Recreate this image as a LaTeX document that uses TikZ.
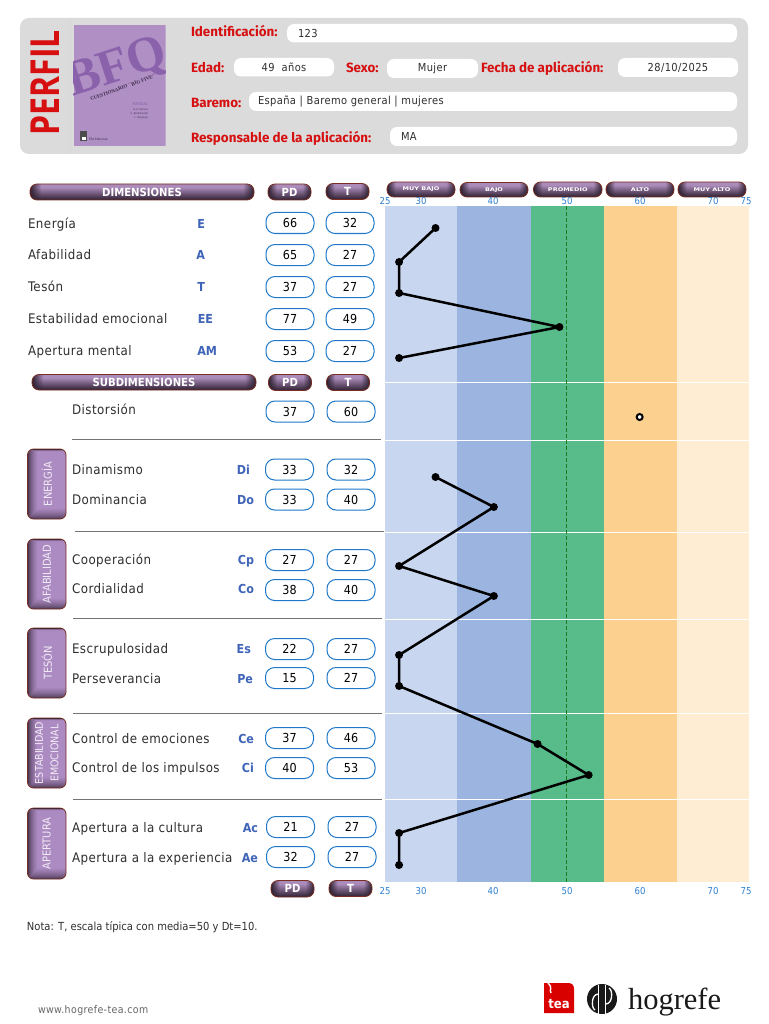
\documentclass[tikz,border=0pt]{standalone}
\usepackage{fontspec}
\setmainfont{DejaVu Sans Condensed}
\newfontfamily\rowfont[LetterSpace=3.6]{DejaVu Sans Condensed}
\newfontfamily\perfilfont{Open Sans}
\newfontfamily\redfont{Fira Sans}
\newfontfamily\serifff{Liberation Serif}
\newfontfamily\widefont{DejaVu Sans}
\definecolor{pilldark}{HTML}{2E2030}
\definecolor{pillborder}{HTML}{7A2E22}
\definecolor{tagpurple}{HTML}{AC8AC2}
\definecolor{valblue}{HTML}{1F78C8}
\definecolor{abblue}{HTML}{3F64B8}
\definecolor{scaleblue}{HTML}{2D7FD0}
\definecolor{hdrred}{HTML}{D60F10}
\definecolor{txtgray}{HTML}{2F2F2F}
\definecolor{bandA}{HTML}{C9D6F0}
\definecolor{bandB}{HTML}{9BB5E0}
\definecolor{bandC}{HTML}{57BB8A}
\definecolor{bandD}{HTML}{FCD08F}
\definecolor{bandE}{HTML}{FEECD3}
\definecolor{coverbg}{HTML}{B08FC4}
\definecolor{coverfg}{HTML}{8A62AB}
\definecolor{midline}{HTML}{1E7A1E}
% two-dimensional pill shadings: dark bottom and dark ends
\newcommand{\pillfunc}[1]{%
  25 sub 50 div dup 0 lt {pop 0} if dup 1 gt {pop 1} if 1.25 mul dup 1 gt {pop 1} if
  exch 25 sub 50 div dup 1 exch sub 2 copy gt {exch} if pop
  #1 div dup 0 lt {pop 0} if dup 1 gt {pop 1} if
  mul
  dup 0.49 mul 0.18 add exch
  dup 0.42 mul 0.125 add exch
  0.54 mul 0.19 add}
\pgfdeclarefunctionalshading{pillwide}{\pgfpointorigin}{\pgfpoint{100bp}{100bp}}{}{\pillfunc{0.05}}
\pgfdeclarefunctionalshading{pillshort}{\pgfpointorigin}{\pgfpoint{100bp}{100bp}}{}{\pillfunc{0.2}}
\pgfdeclarefunctionalshading{pillcat}{\pgfpointorigin}{\pgfpoint{100bp}{100bp}}{}{\pillfunc{0.13}}
\pgfdeclarefunctionalshading{tagshade}{\pgfpointorigin}{\pgfpoint{100bp}{100bp}}{}{%
  25 sub 50 div dup 1 exch sub 0.03 div exch 0.16 div
  2 copy gt {exch} if pop
  exch 25 sub 50 div 0.25 div
  2 copy gt {exch} if pop
  dup 0 lt {pop 0} if dup 1 gt {pop 1} if sqrt
  dup 0.495 mul 0.18 add exch
  dup 0.415 mul 0.125 add exch
  0.57 mul 0.19 add}
\tikzset{
  every node/.style={inner sep=0pt,outer sep=0pt},
  pillbox/.style={draw=pillborder,line width=.8pt,rounded corners=7pt,text=white},
  headpill/.style={pillbox,shading=pillwide,font=\bfseries\fontsize{11.2}{12}\selectfont},
  shortpill/.style={pillbox,shading=pillshort,font=\bfseries\fontsize{11.2}{12}\selectfont},
  catpill/.style={pillbox,shading=pillcat,font=\widefont\bfseries\fontsize{5}{6}\selectfont},
  tagbox/.style={draw=pillborder,line width=.8pt,rounded corners=6pt,shading=tagshade,text=white!85!tagpurple,align=center,
    font=\fontsize{11}{12}\selectfont},
  field/.style={fill=white,rounded corners=7pt,text=txtgray,font=\rowfont\fontsize{11}{13}\selectfont},
  redlabel/.style={anchor=mid west,yshift=-2pt,text=hdrred,font=\redfont\bfseries\fontsize{13.4}{15}\selectfont},
  rowlabel/.style={anchor=mid west,yshift=-2.5pt,text=txtgray,font=\rowfont\fontsize{13.2}{15}\selectfont},
  abbr/.style={anchor=mid east,yshift=-2.5pt,text=abblue,font=\bfseries\fontsize{12.4}{15}\selectfont},
  valpill/.style={draw=valblue,line width=1pt,fill=white,rounded corners=9pt,minimum width=48pt,minimum height=21pt,text=black,font=\fontsize{12.4}{14}\selectfont},
  scalelab/.style={text=scaleblue,font=\fontsize{9.5}{11}\selectfont},
  sep/.style={draw=black!55,line width=1pt},
  gridline/.style={draw=white,line width=.8pt},
  plotline/.style={draw=black,line width=2.5pt,line join=round},
  dotpt/.style={circle,fill=black,minimum size=8pt},
  ringpt/.style={circle,draw=black,fill=white,line width=2pt,minimum size=6pt},
}
\newcommand{\boxnode}[7]{\node[#1,minimum width={#4-#3},minimum height={#6-#5}] (#2) at ({(#3+#4)/2},{(#5+#6)/2}) {#7};}
\newcommand{\tabrow}[9]{%
  \node[rowlabel] (lab-#1) at (#2,#3) {#4};
  \node[abbr] (ab-#1) at (#5,#3) {#6};
  \node[valpill] (pd-#1) at (#7,#8) {#9};
}
\newcommand{\tval}[4]{\node[valpill] (t-#1) at (#2,#3) {#4};}
\newcommand{\tpx}[1]{384.5+(#1-25)*7.29}
\newcommand{\catwide}[1]{\scalebox{1.3}[1]{#1}}
\begin{document}
\begin{tikzpicture}[x=1pt,y=-1pt]
\useasboundingbox (0,0) rectangle (768,1024);
\fill[white] (0,0) rectangle (768,1024);
% header
\boxnode{fill=black!14,rounded corners=9pt}{panel}{20}{748}{18}{154}{}
\draw[white!85!black,line width=2pt] (70,18) -- (70,154);
\node[rotate=90,text=hdrred,font=\perfilfont\bfseries\fontsize{40}{44}\selectfont] (perfil) at (45,83) {\scalebox{0.8}[1]{PERFIL}};
% cover
\begin{scope}
\clip (73.5,25) rectangle (165.5,146.5);
\fill[coverbg] (73.5,25) rectangle (165.5,146.5);
\node[rotate=18,anchor=base west,text=coverfg,font=\serifff\bfseries\fontsize{50}{50}\selectfont] (bfq) at (72,96.5) {BFQ};
\end{scope}
\node[rotate=20,anchor=base west,text=black!60!coverfg,font=\serifff\bfseries\fontsize{5}{6}\selectfont] (cuest) at (91,101) {CUESTIONARIO ``BIG FIVE''};
\node[anchor=east,text=coverfg,font=\fontsize{4}{5}\selectfont] (manual) at (148,104.5) {MANUAL};
\node[anchor=north east,align=right,text=black!45!coverfg,font=\fontsize{2.6}{3.6}\selectfont] (autores) at (148,109) {G.V. Caprara\\C. Barbaranelli\\L. Borgogni};
\fill[black!70] (80,131) rectangle (87,141);
\fill[white] (81.5,137) rectangle (85.5,140);
\node[anchor=west,text=black!60!coverfg,font=\fontsize{3}{4}\selectfont] (ted) at (89,139) {TEA Ediciones};
% header fields
\node[redlabel] (l1) at (191,32) {Identificación:};
\boxnode{field,text width=428pt}{f1}{287}{737}{24}{42.5}{123}
\node[redlabel] (l2) at (191,67.5) {Edad:};
\boxnode{field,align=center}{f2}{234}{334}{58}{76.5}{49\ \ años}
\node[redlabel] (l3) at (346,67.5) {Sexo:};
\boxnode{field,align=center}{f3}{387}{478}{59}{78}{Mujer}
\node[redlabel] (l4) at (481,67.5) {Fecha de aplicación:};
\boxnode{field,align=center}{f4}{618}{738}{58}{77}{28/10/2025}
\node[redlabel] (l5) at (191,103) {Baremo:};
\boxnode{field,text width=470pt}{f5}{249}{737}{92}{111}{España | Baremo general | mujeres}
\node[redlabel] (l6) at (191,138) {Responsable de la aplicación:};
\boxnode{field,text width=325pt}{f6}{390}{737}{127}{146}{MA}
% bands
\fill[bandA] (384.5,206) rectangle (457,882);
\fill[bandB] (457,206) rectangle (531,882);
\fill[bandC] (531,206) rectangle (603.5,882);
\fill[bandD] (603.5,206) rectangle (677,882);
\fill[bandE] (677,206) rectangle (749,882);
\foreach \yy in {382,440,532,619,713,799} \draw[gridline] (384.5,\yy) -- (749,\yy);
\coordinate (mtop) at (566.7,206);
\coordinate (mbot) at (566.7,882);
\draw[midline,line width=.8pt,dash pattern=on 4pt off 2pt] (mtop) -- (mbot);
% category pills
\boxnode{catpill}{c1}{387}{455}{182}{197}{\catwide{MUY BAJO}}
\boxnode{catpill}{c2}{460}{528}{182.5}{197}{\catwide{BAJO}}
\boxnode{catpill}{c3}{533.5}{602}{182}{197}{\catwide{PROMEDIO}}
\boxnode{catpill}{c4}{606}{674}{182}{197}{\catwide{ALTO}}
\boxnode{catpill}{c5}{678}{746}{182}{197}{\catwide{MUY ALTO}}
% scale labels
\foreach \sx/\st/\sid in {385/25/a,421/30/b,493/40/c,567/50/d,640/60/e,713/70/f,746/75/g}{
  \node[scalelab] (st-\sid) at (\sx,201.5) {\st};
  \node[scalelab] (sb-\sid) at (\sx,891.5) {\st};
}
% head pills
\boxnode{headpill}{hdim}{30}{254}{184}{200}{DIMENSIONES}
\boxnode{shortpill}{hpd1}{268}{311}{184}{200}{PD}
\boxnode{shortpill}{ht1}{326}{369}{183.5}{199.5}{T}
\boxnode{headpill}{hsub}{32}{256}{374.5}{390}{SUBDIMENSIONES}
\boxnode{shortpill}{hpd2}{268.5}{311.5}{374.5}{390.5}{PD}
\boxnode{shortpill}{ht2}{326.5}{369.5}{374.5}{390.5}{T}
\boxnode{shortpill}{hpd3}{271}{314}{880.5}{897}{PD}
\boxnode{shortpill}{ht3}{329}{372}{880.5}{896.5}{T}
% rows
\tabrow{E}{28}{223}{Energía}{205}{E}{290}{223}{66}\tval{E}{350}{223}{32}
\tabrow{A}{28}{254}{Afabilidad}{205}{A}{290}{255}{65}\tval{A}{350}{255}{27}
\tabrow{T}{28}{286}{Tesón}{205}{T}{290}{287}{37}\tval{T}{350}{287}{27}
\tabrow{EE}{28}{318}{Estabilidad emocional}{213}{EE}{290}{319}{77}\tval{EE}{350}{319}{49}
\tabrow{AM}{28}{350}{Apertura mental}{217}{AM}{290}{351}{53}\tval{AM}{350}{351}{27}
\node[rowlabel] (lab-Dist) at (72,409) {Distorsión};
\node[valpill] (pd-Dist) at (290,411.5) {37};
\tval{Dist}{351}{411.5}{60}
\tabrow{Di}{72}{469}{Dinamismo}{250}{Di}{289.5}{469.5}{33}\tval{Di}{351}{469.5}{32}
\tabrow{Do}{72}{499}{Dominancia}{254}{Do}{289.5}{499.5}{33}\tval{Do}{351}{499.5}{40}
\tabrow{Cp}{72}{559}{Cooperación}{254}{Cp}{289.5}{560}{27}\tval{Cp}{351}{560}{27}
\tabrow{Co}{72}{588}{Cordialidad}{254}{Co}{289.5}{590}{38}\tval{Co}{351}{590}{40}
\tabrow{Es}{72}{648}{Escrupulosidad}{251}{Es}{289.5}{649}{22}\tval{Es}{351}{649}{27}
\tabrow{Pe}{72}{678}{Perseverancia}{253}{Pe}{289.5}{678}{15}\tval{Pe}{351}{678}{27}
\tabrow{Ce}{72}{738}{Control de emociones}{254}{Ce}{289.5}{738}{37}\tval{Ce}{351}{738}{46}
\tabrow{Ci}{72}{767}{Control de los impulsos}{254}{Ci}{289.5}{768}{40}\tval{Ci}{351}{768}{53}
\tabrow{Ac}{72}{827}{Apertura a la cultura}{258}{Ac}{290.5}{827}{21}\tval{Ac}{352}{827}{27}
\tabrow{Ae}{72}{857}{Apertura a la experiencia}{258}{Ae}{290.5}{857}{32}\tval{Ae}{352}{857}{27}
% separators
\coordinate (s1a) at (72,439.5); \coordinate (s1b) at (381,439.5); \draw[sep] (s1a) -- (s1b);
\coordinate (s2a) at (75,531); \coordinate (s2b) at (384,531); \draw[sep] (s2a) -- (s2b);
\coordinate (s3a) at (73,618); \coordinate (s3b) at (382,618); \draw[sep] (s3a) -- (s3b);
\coordinate (s4a) at (73,713); \coordinate (s4b) at (382,713); \draw[sep] (s4a) -- (s4b);
\coordinate (s5a) at (73,799); \coordinate (s5b) at (382,799); \draw[sep] (s5a) -- (s5b);
% tags
\boxnode{tagbox}{tg1}{27.5}{66}{449}{519}{\rotatebox{90}{ENERGÍA}}
\boxnode{tagbox}{tg2}{27.5}{66}{539}{609}{\rotatebox{90}{AFABILIDAD}}
\boxnode{tagbox}{tg3}{27.5}{66}{628}{698}{\rotatebox{90}{TESÓN}}
\boxnode{tagbox}{tg4}{27.5}{66}{718}{788}{\rotatebox{90}{\parbox{68pt}{\centering\fontsize{10.6}{15.5}\selectfont ESTABILIDAD\\EMOCIONAL}}}
\boxnode{tagbox}{tg5}{27.5}{66}{808}{879}{\rotatebox{90}{APERTURA}}
% plot points
\foreach \id/\tv/\py in {E/32/228,A/27/262,T/27/293,EE/49/327,AM/27/358,Di/32/477,Do/40/507,Cp/27/566,Co/40/596,Es/27/655,Pe/27/686,Ce/46/744,Ci/53/775,Ac/27/833,Ae/27/865}{
  \node[dotpt] (p-\id) at ({\tpx{\tv}},\py) {};
}
\node[ringpt] (p-Dist) at ({\tpx{60}},417) {};
\draw[plotline] (p-E.center) -- (p-A.center) -- (p-T.center) -- (p-EE.center) -- (p-AM.center);
\draw[plotline] (p-Di.center) -- (p-Do.center) -- (p-Cp.center) -- (p-Co.center) -- (p-Es.center) -- (p-Pe.center) -- (p-Ce.center) -- (p-Ci.center) -- (p-Ac.center) -- (p-Ae.center);
% footer
\node[anchor=mid west,yshift=-2pt,text=txtgray,font=\fontsize{11.1}{13}\selectfont] (nota) at (27,926) {Nota: T, escala típica con media=50 y Dt=10.};
\node[anchor=mid west,yshift=-2pt,text=black!60,font=\rowfont\fontsize{10.5}{12}\selectfont] (web) at (38,1009) {www.hogrefe-tea.com};
% tea logo
\fill[red!85!black] (544,983) -- (568,983) .. controls (572,983) and (574,985) .. (574,989) -- (574,1013) -- (544,1013) -- cycle;
\draw[white,line width=1.4pt] (548,983) .. controls (553,987) and (549,990) .. (551,993);
\node[text=white,font=\bfseries\fontsize{13}{14}\selectfont] (tea) at (559,1004) {tea};
% hogrefe logo
\fill[black!90] (602,999) circle (15);
\draw[white,line width=1.5pt] (598.5,985) -- (598.5,1014);
\draw[white,line width=1.5pt] (605.5,985) -- (605.5,1014);
\draw[white,line width=1.3pt] (598.5,994) .. controls (591,994) and (591,1008) .. (595,1010);
\draw[white,line width=1.3pt] (605.5,1004) .. controls (613,1004) and (613,990) .. (609,988);
\node[anchor=base west,text=black!90,font=\serifff\fontsize{30.5}{36}\selectfont] (hog) at (628,1009) {hogrefe};
\end{tikzpicture}
\end{document}
